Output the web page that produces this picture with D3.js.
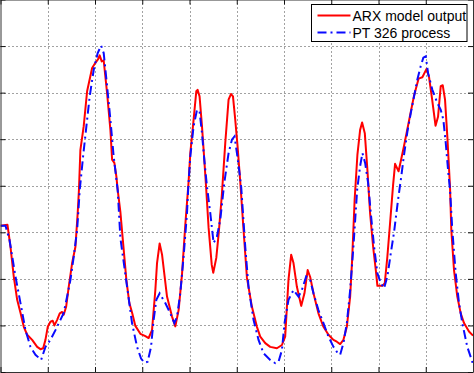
<!DOCTYPE html>
<html>
<head>
<meta charset="utf-8">
<script src="https://cdn.jsdelivr.net/npm/d3@7"></script>
<style>
  html, body { margin: 0; padding: 0; background: #fff; }
  svg { display: block; }
</style>
</head>
<body>
<svg id="chart" width="474" height="373"></svg>
<script>
// ---- data (time units 0..100, output units 0..8) ----
const seriesNames = ["ARX model output", "PT 326 process"];
const xTicks = [0, 10, 20, 30, 40, 50, 60, 70, 80, 90, 100];
const yTicks = [0, 1, 2, 3, 4, 5, 6, 7, 8];

const arxT = [0,1.48,2.11,2.81,3.53,4.23,4.93,5.64,6.70,7.76,8.46,9.03,9.51,10.0,10.57,11.06,11.42,11.99,12.54,13.04,13.38,13.89,14.44,15.16,15.86,16.34,16.60,16.91,17.61,18.33,19.39,20.08,20.66,20.99,21.42,21.84,22.56,23.26,23.62,24.10,24.52,24.80,25.37,25.79,26.64,27.27,27.91,28.54,29.60,30.66,31.35,32.07,32.77,33.13,33.68,34.19,35.24,36.30,37.00,37.70,38.41,39.11,39.81,40.17,40.87,41.44,41.71,42.13,42.64,43.13,43.55,44.04,44.71,45.03,45.67,46.19,46.83,47.57,48.27,48.77,49.20,49.68,50.17,50.74,51.44,52.16,53.21,54.27,54.97,56.03,57.08,58.50,59.56,60.25,60.95,61.52,62.01,62.73,63.64,64.33,65.01,65.54,66.24,67.29,68.35,69.41,70.47,71.18,71.88,72.58,73.30,74.00,74.42,74.95,75.54,76.11,76.53,77.10,77.65,78.22,78.86,79.43,79.77,80.82,81.33,81.88,82.45,83.09,83.51,84.25,84.78,85.41,86.47,87.53,88.48,89.28,90.17,90.70,91.33,92.07,92.60,93.17,93.59,94.08,94.57,95.14,95.41,95.98,96.68,97.40,98.10,99.15,100];
const arxY = [3.14,3.16,2.69,2.05,1.55,1.27,0.97,0.80,0.69,0.54,0.49,0.51,0.69,0.97,1.08,1.10,1.00,1.12,1.26,1.29,1.23,1.40,1.83,2.34,2.69,3.42,3.91,4.77,5.28,6.03,6.53,6.64,6.72,6.80,6.67,6.69,5.99,5.20,4.56,4.49,4.20,3.91,3.44,2.95,1.98,1.48,1.25,0.99,0.82,0.77,0.73,0.90,1.76,2.34,2.76,2.52,1.62,1.19,0.98,1.33,2.09,3.16,4.09,4.70,5.42,6.03,6.06,5.92,5.28,4.56,3.91,3.10,2.30,2.13,2.45,2.99,3.78,4.92,5.85,5.97,5.92,5.42,4.85,4.09,3.05,2.02,1.40,0.97,0.76,0.62,0.54,0.51,0.58,0.76,1.98,2.52,2.34,1.83,1.42,1.69,2.19,2.04,1.69,1.26,0.97,0.80,0.69,0.65,0.60,0.69,0.97,1.62,2.41,3.70,4.67,5.20,5.36,5.13,4.34,3.41,2.69,2.19,1.85,1.85,1.91,2.48,3.20,4.02,4.47,4.31,4.56,4.86,5.40,5.94,6.30,6.33,6.51,6.33,5.87,5.29,5.48,6.14,6.16,5.85,5.05,3.96,3.05,2.19,1.62,1.26,1.05,0.87,0.78];

const ptT = [0,1.06,1.90,3.17,4.23,5.29,6.34,7.40,8.60,9.51,10.57,11.63,12.68,13.38,14.10,14.80,15.50,16.22,16.77,17.48,18.18,18.88,19.73,20.57,21.29,21.84,22.56,23.26,23.95,24.80,25.37,26.79,27.84,28.90,29.75,30.44,31.14,31.86,32.41,32.98,33.68,34.88,35.94,36.79,37.36,38.05,38.75,39.47,39.75,40.17,40.87,41.59,42.13,42.64,43.13,43.70,44.40,45.10,45.81,46.51,47.36,48.27,48.98,49.53,50.04,50.59,50.95,51.80,52.49,53.55,54.61,55.67,57.08,58.14,58.84,59.56,60.11,60.95,62.01,63.07,63.78,64.69,65.54,66.24,67.29,68.35,69.41,70.47,71.40,71.88,72.58,73.30,74.00,74.69,75.48,76.11,76.60,77.17,77.80,78.37,79.07,79.77,80.49,81.18,81.88,82.60,83.30,84.14,84.78,85.41,86.11,86.83,87.53,88.22,88.94,89.49,90.00,90.49,91.40,92.45,93.17,93.72,94.23,94.78,95.14,95.62,96.34,97.04,97.74,98.79,99.85,100];
const ptY = [3.14,3.14,2.84,2.05,1.48,0.90,0.54,0.37,0.26,0.54,0.69,0.90,1.12,1.27,1.62,1.98,2.48,3.05,3.91,4.63,5.28,5.92,6.49,6.85,7.01,6.85,6.14,5.42,4.63,3.91,2.88,1.83,1.05,0.54,0.29,0.20,0.22,0.54,1.12,1.55,1.69,1.48,1.26,1.05,1.19,1.69,2.48,3.41,3.98,4.63,5.28,5.63,5.60,5.13,4.56,3.98,3.41,2.77,2.91,3.27,4.06,4.70,4.99,5.06,4.70,4.27,3.96,2.69,1.83,1.12,0.69,0.40,0.26,0.19,0.22,0.47,1.05,1.55,1.76,1.62,1.76,2.05,1.98,1.69,1.33,1.05,0.76,0.54,0.40,0.37,0.62,1.05,1.76,2.69,3.91,4.42,4.70,4.49,4.06,3.41,2.69,2.12,1.91,1.80,2.05,2.55,3.01,3.70,4.17,4.67,5.16,5.56,5.92,6.28,6.57,6.75,6.78,6.42,6.06,5.78,5.63,5.42,4.92,4.27,3.91,3.05,2.12,1.48,1.05,0.54,0.22,0.15];

// ---- drawing ----
const svg = d3.select("#chart");
const x = d3.scaleLinear().domain([0, 100]).range([0.5, 473]);
const y = d3.scaleLinear().domain([0, 8]).range([372, -0.5]);
const pLeft = x(0), pRight = x(100), pTop = y(8), pBottom = y(0);

svg.append("rect").attr("width", 474).attr("height", 373).attr("fill", "#fff");

svg.append("defs").append("clipPath").attr("id", "plotclip")
  .append("rect").attr("x", pLeft).attr("y", pTop)
  .attr("width", pRight - pLeft).attr("height", pBottom - pTop);

// grid
const grid = svg.append("g").attr("class", "grid");
grid.selectAll("line.vx").data(xTicks.slice(1, -1)).join("line")
  .attr("x1", d => Math.round(x(d)) + 0.5).attr("x2", d => Math.round(x(d)) + 0.5)
  .attr("y1", pTop).attr("y2", pBottom)
  .attr("stroke", "#444").attr("stroke-width", 1).attr("stroke-dasharray", "1,3");
grid.selectAll("line.hy").data(yTicks.slice(1, -1)).join("line")
  .attr("y1", d => Math.round(y(d)) + 0.5).attr("y2", d => Math.round(y(d)) + 0.5)
  .attr("x1", pLeft).attr("x2", pRight)
  .attr("stroke", "#444").attr("stroke-width", 1).attr("stroke-dasharray", "1,3");

// lines
const lineGen = d3.line().x(d => x(d[0])).y(d => y(d[1]));
const arxData = arxT.map((t, i) => [t, arxY[i]]);
const ptData = ptT.map((t, i) => [t, ptY[i]]);
const plot = svg.append("g").attr("clip-path", "url(#plotclip)");
plot.append("path").datum(arxData).attr("d", lineGen)
  .attr("fill", "none").attr("stroke", "#ff0000").attr("stroke-width", 2)
  .attr("stroke-linejoin", "round");
plot.append("path").datum(ptData).attr("d", lineGen)
  .attr("fill", "none").attr("stroke", "#0a0aff").attr("stroke-width", 2)
  .attr("stroke-dasharray", "9,4,2,4");

// axes box with inward ticks on all sides
const axStyle = g => { g.selectAll("path.domain").attr("stroke", "#333"); g.selectAll(".tick line").attr("stroke", "#111"); g.selectAll("text").remove(); };
svg.append("g").attr("transform", `translate(0,${pBottom})`)
  .call(d3.axisBottom(x).tickValues(xTicks).tickSize(-5).tickSizeOuter(0).tickFormat("")).call(axStyle);
svg.append("g").attr("transform", `translate(0,${pTop})`)
  .call(d3.axisTop(x).tickValues(xTicks).tickSize(-5).tickSizeOuter(0).tickFormat("")).call(axStyle);
svg.append("g").attr("transform", `translate(${pLeft},0)`)
  .call(d3.axisLeft(y).tickValues(yTicks).tickSize(-5).tickSizeOuter(0).tickFormat("")).call(axStyle);
svg.append("g").attr("transform", `translate(${pRight},0)`)
  .call(d3.axisRight(y).tickValues(yTicks).tickSize(-5).tickSizeOuter(0).tickFormat("")).call(axStyle);

// legend
const lg = svg.append("g").attr("transform", "translate(311.5,4.5)");
lg.append("rect").attr("width", 155.5).attr("height", 37)
  .attr("fill", "#fff").attr("stroke", "#000").attr("stroke-width", 1);
const styles = [
  { color: "#ff0000", dash: null },
  { color: "#0a0aff", dash: "9,4,2,4" }
];
seriesNames.forEach((name, i) => {
  const cy = 11 + i * 17;
  lg.append("line").attr("x1", 6).attr("x2", 39).attr("y1", cy).attr("y2", cy)
    .attr("stroke", styles[i].color).attr("stroke-width", 2)
    .attr("stroke-dasharray", styles[i].dash);
  lg.append("text").attr("x", 41).attr("y", cy).attr("dy", "0.36em")
    .attr("font-family", "'Liberation Sans', Arial, sans-serif").attr("font-size", 14)
    .attr("fill", "#000").text(name);
});
</script>
</body>
</html>
